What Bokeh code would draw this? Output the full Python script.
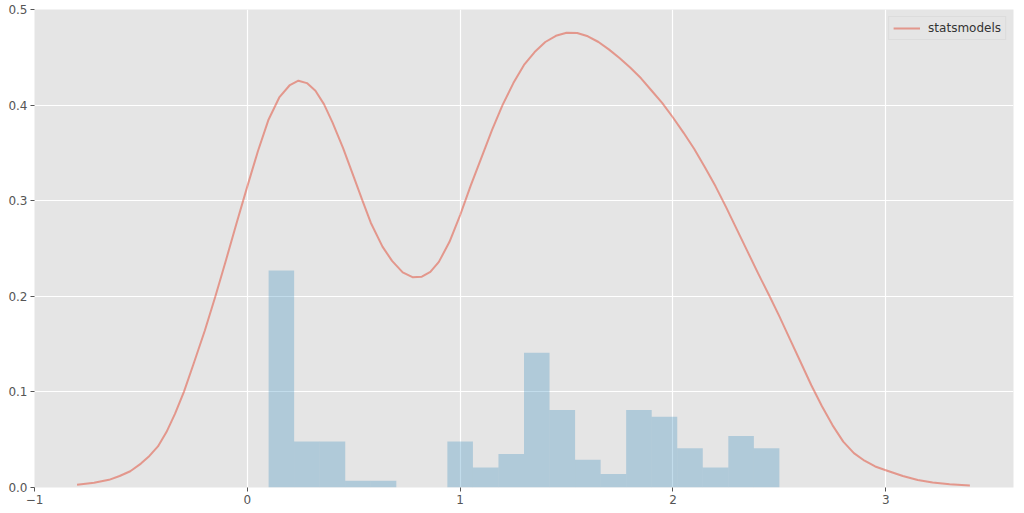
from bokeh.plotting import figure
from bokeh.models import FixedTicker, Range1d, Legend, LegendItem
from bokeh.embed import file_html
from bokeh.resources import INLINE

# Histogram (normalised weights), bin edges and heights
bin_edges = [0.10, 0.22, 0.34, 0.46, 0.58, 0.70, 0.82, 0.94, 1.06, 1.18, 1.30,
             1.42, 1.54, 1.66, 1.78, 1.90, 2.02, 2.14, 2.26, 2.38, 2.50]
bin_heights = [0.227, 0.048, 0.048, 0.007, 0.007, 0.0, 0.0, 0.048, 0.021, 0.035,
               0.141, 0.081, 0.029, 0.014, 0.081, 0.074, 0.041, 0.021, 0.054, 0.041]

# KDE curve (statsmodels)
kde_x = [-0.80, -0.72, -0.65, -0.60, -0.55, -0.50, -0.46, -0.42, -0.38, -0.34,
         -0.298, -0.25, -0.20, -0.15, -0.10, -0.05, 0.0, 0.05, 0.10, 0.15,
         0.20, 0.24, 0.28, 0.32, 0.36, 0.40, 0.45, 0.50, 0.541, 0.58,
         0.635, 0.68, 0.73, 0.776, 0.82, 0.86, 0.90, 0.95, 1.0, 1.05,
         1.105, 1.15, 1.199, 1.25, 1.30, 1.35, 1.40, 1.45, 1.50, 1.55,
         1.60, 1.65, 1.70, 1.75, 1.80, 1.85, 1.90, 1.95, 2.00, 2.05,
         2.10, 2.15, 2.20, 2.25, 2.30, 2.35, 2.40, 2.454, 2.50, 2.55,
         2.60, 2.65, 2.70, 2.75, 2.80, 2.85, 2.90, 2.95, 3.00, 3.08,
         3.15, 3.22, 3.30, 3.395]
kde_y = [0.003, 0.005, 0.008, 0.012, 0.017, 0.025, 0.033, 0.043, 0.058, 0.077,
         0.100, 0.131, 0.164, 0.200, 0.238, 0.277, 0.315, 0.352, 0.385, 0.408,
         0.421, 0.4255, 0.423, 0.415, 0.401, 0.382, 0.355, 0.325, 0.300, 0.277,
         0.252, 0.237, 0.225, 0.220, 0.2205, 0.2255, 0.236, 0.257, 0.285, 0.316,
         0.348, 0.374, 0.400, 0.423, 0.442, 0.4555, 0.466, 0.4725, 0.4757, 0.4755,
         0.472, 0.466, 0.458, 0.449, 0.439, 0.428, 0.415, 0.402, 0.387, 0.371,
         0.354, 0.335, 0.315, 0.293, 0.270, 0.247, 0.224, 0.200, 0.179, 0.155,
         0.131, 0.107, 0.085, 0.065, 0.048, 0.036, 0.028, 0.022, 0.018, 0.012,
         0.0078, 0.0052, 0.0035, 0.0022]

x_ticks = [-1, 0, 1, 2, 3]
x_tick_labels = ["\u22121", "0", "1", "2", "3"]
y_ticks = [0.0, 0.1, 0.2, 0.3, 0.4, 0.5]
y_tick_labels = ["0.0", "0.1", "0.2", "0.3", "0.4", "0.5"]

p = figure(width=1016, height=508, output_backend="svg", toolbar_location=None,
           x_range=Range1d(-1.0, 3.6), y_range=Range1d(0.0, 0.5),
           min_border_left=34, min_border_right=3, min_border_top=9,
           min_border_bottom=21)
p.background_fill_color = "#E5E5E5"
p.border_fill_color = "white"
p.outline_line_color = None

p.quad(left=bin_edges[:-1], right=bin_edges[1:], bottom=0, top=bin_heights,
       fill_color="#348ABD", fill_alpha=0.3, line_color=None)

r = p.line(kde_x, kde_y, line_color="#E24A33", line_alpha=0.5, line_width=2,
           line_join="round")

for ax, ticks, labels in ((p.xaxis[0], x_ticks, x_tick_labels),
                          (p.yaxis[0], y_ticks, y_tick_labels)):
    ax.ticker = FixedTicker(ticks=ticks)
    ax.major_label_overrides = {t: l for t, l in zip(ticks, labels)}
    ax.axis_line_color = None
    ax.major_tick_line_color = "#555555"
    ax.major_tick_out = 4
    ax.major_tick_in = 0
    ax.minor_tick_line_color = None
    ax.major_label_text_color = "#555555"
    ax.major_label_text_font = "DejaVu Sans"
    ax.major_label_text_font_size = "12px"
    ax.major_label_standoff = 3

p.xgrid.ticker = FixedTicker(ticks=x_ticks)
p.ygrid.ticker = FixedTicker(ticks=y_ticks)
for g in (p.xgrid[0], p.ygrid[0]):
    g.grid_line_color = "white"
    g.grid_line_width = 1.2

legend = Legend(items=[LegendItem(label="statsmodels", renderers=[r])],
                location="top_right")
legend.background_fill_color = "#E5E5E5"
legend.background_fill_alpha = 0.8
legend.border_line_color = "#D4D4D4"
legend.border_line_width = 1
legend.label_text_font = "DejaVu Sans"
legend.label_text_font_size = "12px"
legend.label_text_color = "#333333"
legend.label_height = 14
legend.glyph_height = 14
legend.glyph_width = 27
legend.label_standoff = 8
legend.padding = 4
legend.margin = 7
legend.spacing = 0
p.add_layout(legend)

open("out.html", "w").write(file_html(p, INLINE))
